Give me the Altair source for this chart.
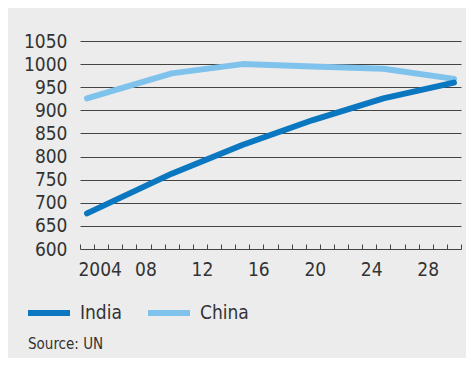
import json
import altair as alt
import pandas as pd

years = [2004, 2010, 2015, 2020, 2025, 2030]
india = [677, 763, 825, 879, 926, 960]
china = [926, 980, 1000, 995, 990, 968]
series = ["India", "China"]
colors = ["#0a77c0", "#7fc2ec"]
y_ticks = [600, 650, 700, 750, 800, 850, 900, 950, 1000, 1050]
x_tick_years = list(range(2004, 2032))
x_label_years = [2004, 2008, 2012, 2016, 2020, 2024, 2028]
x_label_text = ["2004", "08", "12", "16", "20", "24", "28"]
source_text = ["Source: UN"]

df = pd.DataFrame({
    "year": years * 2,
    "value": india + china,
    "country": ["India"] * len(years) + ["China"] * len(years),
})

FONT = "Liberation Sans Narrow, DejaVu Sans Condensed, Roboto Condensed, sans-serif"
TXT = "#333333"
GRID = "#444444"
FS = 19

label_map = {str(y): t for y, t in zip(x_label_years, x_label_text)}
label_expr = f"({json.dumps(label_map)})[toString(datum.value)] || ''"

x_enc = alt.X(
    "pos:Q",
    scale=alt.Scale(domain=[2004, 2031], nice=False, zero=False),
    axis=alt.Axis(
        values=x_tick_years, title=None, grid=False, domain=False,
        tickSize=5, tickColor=GRID, tickWidth=1, offset=-5,
        labelExpr=label_expr,
        labelAlign={"condition": {"test": "datum.value == 2004", "value": "left"}, "value": "center"},
        labelOffset={"condition": {"test": "datum.value == 2004", "value": -2}, "value": 9},
        labelPadding=11, labelFontSize=FS, labelColor=TXT, labelFont=FONT,
        labelFlush=False, labelOverlap=False, labelBound=False,
    ),
)
y_enc = alt.Y(
    "value:Q",
    scale=alt.Scale(domain=[600, 1050], nice=False, zero=False),
    axis=alt.Axis(
        values=y_ticks, title=None, grid=True, gridColor=GRID, gridWidth=1,
        gridOpacity=1, domain=False, ticks=False, labelPadding=13, format="d",
        labelFontSize=FS, labelColor=TXT, labelFont=FONT, labelFlush=False,
        labelOverlap=False,
    ),
)
color_enc = alt.Color(
    "country:N",
    scale=alt.Scale(domain=series, range=colors),
    sort=series,
    legend=alt.Legend(
        orient="none", legendX=-55, legendY=248, direction="horizontal",
        title=None, symbolType="stroke", symbolSize=1764, symbolStrokeWidth=6,
        labelFontSize=FS, labelFont=FONT, labelColor=TXT, labelOffset=7,
        columnPadding=14, padding=0,
    ),
)

base = alt.Chart(df).transform_calculate(pos="datum.year + 0.5")

china_line = base.transform_filter("datum.country == 'China'").mark_line(
    strokeWidth=6, strokeCap="round", strokeJoin="round"
).encode(x=x_enc, y=y_enc, color=color_enc)

india_line = base.transform_filter("datum.country == 'India'").mark_line(
    strokeWidth=6, strokeCap="round", strokeJoin="round"
).encode(x=x_enc, y=y_enc, color=color_enc)

source = alt.Chart(pd.DataFrame({"t": source_text})).mark_text(
    align="left", baseline="middle", fontSize=15, font=FONT, color=TXT
).encode(x=alt.value(-52), y=alt.value(303), text="t:N")

chart = alt.layer(china_line, india_line, source).properties(
    width=381, height=208, background="#ececec",
    padding={"left": 72, "top": 33, "right": 5, "bottom": 109},
    autosize=alt.AutoSizeParams(type="none"),
).configure_view(stroke=None)

chart.save("out.html", embed_options={"renderer": "svg", "actions": False})
